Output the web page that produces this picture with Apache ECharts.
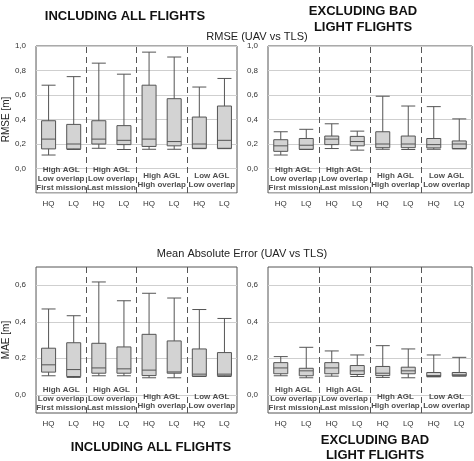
<!DOCTYPE html>
<html><head><meta charset="utf-8">
<script src="https://cdn.jsdelivr.net/npm/echarts@6/dist/echarts.min.js"></script>
<style>html,body{margin:0;padding:0;background:#fff}#c{width:474px;height:461px}</style>
</head><body><div id="c"></div>
<script>
const categories = ['HQ','LQ','HQ','LQ','HQ','LQ','HQ','LQ'];
const groupLabels = ['High AGL\nLow overlap\nFirst mission','High AGL\nLow overlap\nLast mission','High AGL\nHigh overlap','Low AGL\nLow overlap'];
const groupCenters = [1,3,5,7];
const dividers = [2,4,6];
// [min, Q1, median, Q3, max]
const rmseAll = [[0.11,0.16,0.24,0.39,0.68],[0.155,0.16,0.20,0.36,0.75],[0.165,0.20,0.24,0.39,0.86],[0.155,0.195,0.23,0.35,0.77],
  [0.157,0.18,0.24,0.68,0.95],[0.157,0.185,0.22,0.57,0.91],[0.162,0.165,0.20,0.42,0.665],[0.162,0.165,0.23,0.51,0.735]];
const rmseExcl = [[0.11,0.14,0.185,0.235,0.30],[0.155,0.157,0.19,0.245,0.32],[0.163,0.195,0.24,0.265,0.365],[0.15,0.185,0.22,0.262,0.305],
  [0.157,0.17,0.20,0.30,0.59],[0.155,0.17,0.20,0.265,0.51],[0.157,0.168,0.195,0.245,0.505],[0.16,0.163,0.20,0.225,0.405]];
const maeAll = [[0.104,0.124,0.164,0.255,0.47],[0.095,0.10,0.138,0.285,0.433],[0.104,0.118,0.147,0.282,0.618],[0.104,0.118,0.142,0.262,0.515],
  [0.093,0.105,0.135,0.331,0.556],[0.093,0.118,0.125,0.295,0.53],[0.10,0.102,0.113,0.251,0.467],[0.10,0.104,0.113,0.231,0.418]];
const maeExcl = [[0.104,0.115,0.147,0.176,0.209],[0.093,0.104,0.131,0.145,0.26],[0.102,0.115,0.147,0.176,0.24],[0.10,0.111,0.131,0.16,0.218],
  [0.095,0.105,0.118,0.155,0.269],[0.093,0.115,0.131,0.151,0.251],[0.098,0.10,0.105,0.122,0.218],[0.102,0.104,0.109,0.122,0.205]];

const panels = [
  {data:rmseAll, grid:{left:36,right:237,top:46,bottom:268}, ymin:-0.2, ymax:1.0, step:0.2, name:'RMSE [m]', lab3:-0.08, lab2:-0.1},
  {data:rmseExcl, grid:{left:268,right:2,top:46,bottom:268}, ymin:-0.2, ymax:1.0, step:0.2, name:'', lab3:-0.08, lab2:-0.1},
  {data:maeAll, grid:{left:36,right:237,top:267,bottom:48}, ymin:-0.1, ymax:0.7, step:0.1, name:'MAE [m]', lab3:-0.024, lab2:-0.034},
  {data:maeExcl, grid:{left:268,right:2,top:267,bottom:48}, ymin:-0.1, ymax:0.7, step:0.1, name:'', lab3:-0.024, lab2:-0.034}
];
const grids=[], xAxes=[], yAxes=[], series=[];
panels.forEach((p,i)=>{
  grids.push(Object.assign({show:true,borderColor:'#555',borderWidth:1},p.grid));
  xAxes.push({type:'category',gridIndex:i,data:categories,boundaryGap:true,axisLine:{show:false},axisTick:{show:false},
    axisLabel:{fontSize:8,color:'#333',margin:7,fontFamily:'Liberation Sans'}});
  xAxes.push({type:'value',gridIndex:i,min:0,max:8,show:false});
  const colors = p.step===0.1 ? ['transparent','#cfcfcf'] : ['#cfcfcf'];
  yAxes.push({type:'value',gridIndex:i,min:p.ymin,max:p.ymax,interval:p.step,
    name:p.name,nameLocation:'middle',nameGap:24,nameTextStyle:{fontSize:10,color:'#222',fontFamily:'Liberation Sans'},
    axisLine:{show:false},axisTick:{show:false},
    splitLine:{lineStyle:{color:colors,width:1}},
    axisLabel:{fontSize:8,color:'#333',margin:10,fontFamily:'Liberation Sans',formatter:v=>{
      const r=Math.round(v*10); if(v<-1e-6 || r%2!==0) return ''; return (r/10).toFixed(1).replace('.',',');}}});
  series.push({type:'boxplot',xAxisIndex:2*i,yAxisIndex:i,data:p.data,boxWidth:[14,14],
    itemStyle:{color:'#d3d3d3',borderColor:'#555',borderWidth:1}});
  series.push({type:'scatter',xAxisIndex:2*i+1,yAxisIndex:i,symbolSize:0,silent:true,
    data:groupCenters.map((c,k)=>({value:[c,groupLabels[k].split('\n').length===3?p.lab3:p.lab2],
      label:{show:true,position:'inside',formatter:groupLabels[k],fontSize:8,fontWeight:'bold',color:'#222',lineHeight:9,fontFamily:'Liberation Sans'}})),
    markLine:{silent:true,symbol:'none',label:{show:false},lineStyle:{type:[6,4],color:'#555',width:1},
      data:dividers.map(d=>({xAxis:d}))}});
});
const tb={fontSize:13,fontWeight:'bold',color:'#111',fontFamily:'Liberation Sans'};
const tn={fontSize:11,fontWeight:'normal',color:'#222',fontFamily:'Liberation Sans'};
const chart=echarts.init(document.getElementById('c'));
chart.setOption({
  animation:false,
  title:[
    {text:'INCLUDING ALL FLIGHTS',left:120,top:5,textAlign:'center',textStyle:tb},
    {text:'EXCLUDING BAD\nLIGHT FLIGHTS',left:358,top:-2,textAlign:'center',textStyle:Object.assign({lineHeight:16},tb)},
    {text:'RMSE (UAV vs TLS)',left:252,top:26,textAlign:'center',textStyle:tn},
    {text:'Mean Absolute Error (UAV vs TLS)',left:237,top:243,textAlign:'center',textStyle:tn},
    {text:'INCLUDING ALL FLIGHTS',left:146,top:436,textAlign:'center',textStyle:tb},
    {text:'EXCLUDING BAD\nLIGHT FLIGHTS',left:370,top:428,textAlign:'center',textStyle:Object.assign({lineHeight:15},tb)}
  ],
  grid:grids,xAxis:xAxes,yAxis:yAxes,series:series
});
</script></body></html>
